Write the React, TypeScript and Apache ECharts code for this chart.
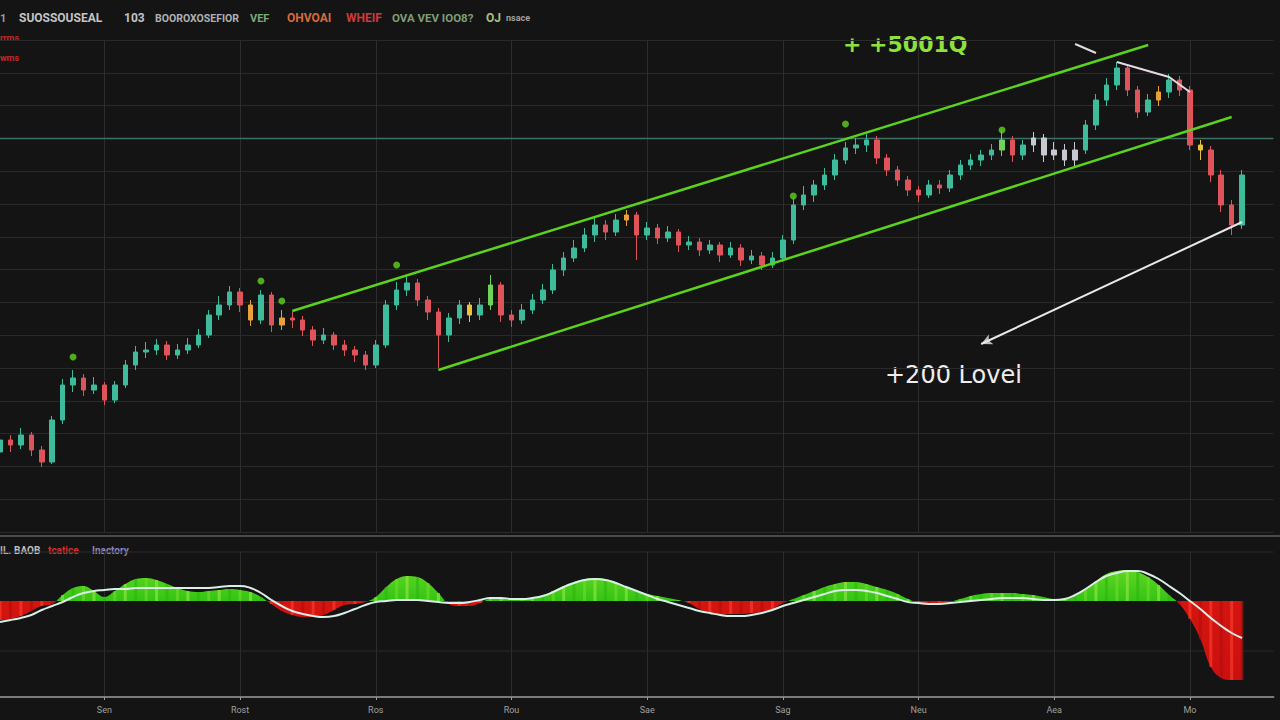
import React, { useEffect, useRef } from "react";
import * as echarts from "echarts";

// ---------- data ----------
const tickLabels = ["Sen", "Rost", "Ros", "Rou", "Sae", "Sag", "Neu", "Aea", "Mo"];
const tickIndex = [10, 23, 36, 49, 62, 75, 88, 101, 114];
const categoryCount = 123;

// [open, close, low, high]
const candles: number[][] = [
  [80, 92, 74, 98], [92, 87, 80, 97], [87, 97, 83, 104], [97, 82, 76, 100], [82, 70, 65, 86],
  [70, 112, 68, 116], [112, 147, 108, 153], [147, 154, 140, 162], [154, 142, 136, 158], [142, 147, 138, 155],
  [147, 132, 127, 150], [132, 147, 129, 151], [147, 167, 144, 172], [167, 180, 162, 186], [180, 182, 174, 190],
  [182, 187, 177, 193], [187, 177, 172, 191], [177, 182, 173, 188], [182, 187, 178, 194], [187, 197, 184, 203],
  [197, 217, 194, 222], [217, 227, 212, 236], [227, 240, 222, 246], [240, 227, 220, 244], [227, 212, 206, 232],
  [212, 237, 208, 242], [237, 207, 200, 240], [207, 214, 202, 222], [214, 212, 204, 220], [212, 202, 196, 216],
  [202, 192, 186, 206], [192, 197, 188, 204], [197, 187, 182, 200], [187, 182, 176, 192], [182, 177, 170, 186],
  [177, 167, 162, 181], [167, 187, 164, 192], [187, 227, 184, 232], [227, 242, 222, 250], [242, 249, 236, 256],
  [249, 232, 226, 253], [232, 220, 212, 236], [220, 197, 164, 224], [197, 214, 190, 219], [214, 227, 208, 232],
  [227, 217, 210, 230], [217, 227, 212, 234], [227, 247, 222, 257], [247, 217, 210, 250], [217, 212, 205, 222],
  [212, 222, 208, 228], [222, 232, 218, 238], [232, 242, 228, 248], [242, 262, 238, 268], [262, 274, 256, 280],
  [274, 284, 270, 292], [284, 297, 280, 304], [297, 307, 290, 314], [307, 300, 292, 312], [300, 312, 296, 318],
  [312, 317, 306, 322], [317, 297, 272, 320], [297, 304, 292, 310], [304, 294, 288, 308], [294, 300, 290, 306],
  [300, 287, 280, 303], [287, 290, 282, 296], [290, 282, 276, 294], [282, 287, 278, 292], [287, 277, 270, 290],
  [277, 284, 274, 290], [284, 272, 266, 288], [272, 276, 268, 282], [276, 267, 262, 280], [267, 274, 264, 280],
  [274, 292, 270, 297], [292, 327, 288, 334], [327, 337, 322, 346], [337, 347, 330, 352], [347, 357, 342, 364],
  [357, 372, 352, 378], [372, 384, 368, 390], [384, 387, 378, 394], [387, 392, 380, 398], [392, 374, 368, 396],
  [374, 362, 356, 378], [362, 352, 346, 366], [352, 342, 336, 356], [342, 337, 330, 346], [337, 347, 334, 352],
  [347, 344, 338, 352], [344, 357, 340, 362], [357, 367, 352, 372], [367, 372, 362, 378], [372, 377, 366, 382],
  [377, 382, 372, 388], [382, 392, 376, 402], [392, 377, 370, 396], [377, 387, 372, 392], [387, 394, 380, 400],
  [394, 377, 370, 398], [377, 382, 372, 390], [382, 372, 366, 388], [372, 382, 366, 390], [382, 407, 378, 412],
  [407, 432, 402, 438], [432, 447, 426, 454], [447, 464, 442, 470], [464, 442, 436, 468], [442, 420, 414, 446],
  [420, 432, 416, 438], [432, 440, 426, 446], [440, 452, 434, 458], [452, 442, 436, 456], [442, 387, 382, 446],
  [387, 382, 372, 392], [382, 357, 350, 386], [357, 327, 320, 362], [327, 307, 297, 332], [307, 357, 303, 362],
];

const macdHist = [
  -19, -18, -15, -10, -5, -3, 6, 13, 15, 10,
  4, 10, 17, 22, 23, 21, 17, 13, 10, 9,
  10, 11, 12, 11, 9, 4, -3, -10, -14, -16,
  -16, -14, -9, -4, -3, -1, 4, 14, 22, 25,
  24, 18, 8, -3, -5, -5, -2, 2, 2, 1,
  2, 3, 6, 10, 15, 19, 22, 23, 22, 19,
  14, 10, 7, 5, 3, 1, -2, -8, -12, -14,
  -13, -13, -12, -11, -8, -2, 2, 6, 10, 14,
  17, 19, 19, 17, 14, 11, 7, 2, -2, -4,
  -3, -1, 2, 5, 7, 8, 8, 8, 7, 6,
  4, 2, 2, 5, 12, 20, 27, 30, 31, 29,
  24, 16, 6, -3, -18, -38, -66, -77, -79, -79,
];

const macdSignal = [
  -21, -19, -17, -14, -9, -5, -1, 4, 8, 10,
  11, 12, 12, 13, 13, 13, 13, 13, 13, 13,
  13, 14, 15, 15, 13, 8, 1, -5, -10, -13,
  -15, -16, -15, -12, -8, -4, -1, 0, 1, 1,
  1, 0, -1, -2, -2, -1, 1, 3, 3, 2,
  2, 3, 5, 9, 14, 18, 21, 22, 21, 18,
  14, 10, 6, 2, -1, -4, -7, -10, -12, -14,
  -15, -15, -14, -12, -9, -5, -2, 1, 4, 7,
  10, 11, 11, 10, 8, 5, 2, -1, -2, -3,
  -3, -2, -1, 0, 1, 2, 3, 3, 3, 2,
  1, 1, 2, 6, 12, 19, 25, 28, 30, 30,
  27, 22, 15, 8, 0, -8, -17, -25, -32, -37,
];

const upperChannel = [[28, 221], [110, 487]];
const lowerChannel = [[42, 162], [118, 415]];
const pointerLine = [[119, 310], [94, 188]];
const peakTrend = [[107, 470], [112, 455], [114, 440]];
const peakTick = [[103, 488], [105, 479]];
const signalDots = [[7, 175], [25, 251], [27, 231], [38, 267], [76, 336], [81, 408], [96, 402]];
const supportLevel = [[0, 393.6], [122, 393.6]];
const histGuides = [[[0, 49], [122, 49]], [[0, -50], [122, -50]]];

// ---------- styles ----------
const BG = "#141414";
const UP = "#3dbb9b";
const DOWN = "#df535a";
const accent: Record<number, string> = {
  24: "#e8a13a", 27: "#e8a13a", 45: "#e8c23a", 47: "#6fd35a", 60: "#e8a13a",
  96: "#6fd35a", 99: "#c8c8d0", 100: "#c8c8d0", 101: "#c8c8d0", 102: "#c8c8d0", 103: "#c8c8d0",
  111: "#e8a13a", 115: "#e8c23a",
};

function buildOption(): any {
  const categories = Array.from({ length: categoryCount }, (_, i) => String(i));
  const candleData = candles.map((c, i) =>
    accent[i]
      ? { value: c, itemStyle: { color: accent[i], color0: accent[i], borderColor: accent[i], borderColor0: accent[i] } }
      : c
  );
  const gridRight = 1280 - 122 * 10.438;
  const isTick = (idx: number) => tickIndex.indexOf(idx) >= 0;
  const green = "#5ad21e";
  const lowTop = 551, lowH = 146, lowMax = 50, lowMin = -96;
  const zeroFrac = lowMax / (lowMax - lowMin);

  const header = [
    { x: 0, t: "1", c: "#9a9a9a", s: 11 },
    { x: 19, t: "SUOSSOUSEAL", c: "#c4c4c4", s: 12 },
    { x: 124, t: "103", c: "#c4c4c4", s: 12 },
    { x: 155, t: "BOOROXOSEFIOR", c: "#b0b0b0", s: 10.5 },
    { x: 250, t: "VEF", c: "#7fa878", s: 11 },
    { x: 287, t: "OHVOAI", c: "#d96a3c", s: 12 },
    { x: 346, t: "WHEIF", c: "#cc3b3b", s: 12 },
    { x: 392, t: "OVA VEV IOO8?", c: "#7d9e74", s: 11.5 },
    { x: 486, t: "OJ", c: "#a8c080", s: 12 },
    { x: 506, t: "nsace", c: "#a0a0a0", s: 9 },
  ];

  const graphics: any[] = [
    ...header.map((h) => ({
      type: "text", left: h.x, top: 19 - h.s / 2 - 1,
      style: { text: h.t, fill: h.c, fontSize: h.s, fontFamily: "Roboto", fontWeight: "bold" },
    })),
    { type: "text", left: 0, top: 33, style: { text: "rrms", fill: "#c42a2a", fontSize: 9, fontFamily: "Roboto", fontWeight: "bold" } },
    { type: "text", left: 0, top: 53, style: { text: "wms", fill: "#c42a2a", fontSize: 9, fontFamily: "Roboto", fontWeight: "bold" } },
    { type: "text", left: 843, top: 33, style: { text: "+ +5001Q", fill: "#8ee03c", fontSize: 22, fontFamily: "DejaVu Sans", fontWeight: "bold" } },
    { type: "text", left: 885, top: 363, style: { text: "+200 Lovel", fill: "#eeeeee", fontSize: 24, fontFamily: "DejaVu Sans", fontWeight: 500 } },
    { type: "text", left: 0, top: 545, style: { text: "IL.", fill: "#b0b0b0", fontSize: 10, fontFamily: "Roboto", fontWeight: "bold" } },
    { type: "text", left: 14, top: 545, style: { text: "BAOB", fill: "#c0c0c0", fontSize: 10, fontFamily: "Roboto", fontWeight: "bold" } },
    { type: "text", left: 48, top: 545, style: { text: "tcatice", fill: "#d43030", fontSize: 10, fontFamily: "Roboto", fontWeight: "bold" } },
    { type: "text", left: 92, top: 545, style: { text: "Inactory", fill: "#8e88b8", fontSize: 10, fontFamily: "Roboto", fontWeight: "bold" } },
    { type: "line", shape: { x1: 0, y1: 536, x2: 1280, y2: 536 }, style: { stroke: "#4a4a4a", lineWidth: 2 } },
  ];

  const lineOf = (data: number[][], color: string, width: number, axis = 0, z = 5) => ({
    type: "line", xAxisIndex: axis, yAxisIndex: axis, data, symbol: "none", silent: true, z,
    lineStyle: { color, width }, smooth: false,
  });

  const histFill = {
    type: "linear", x: 0, y: lowTop, x2: 0, y2: lowTop + lowH, global: true,
    colorStops: [
      { offset: 0, color: "#7be02c" },
      { offset: zeroFrac - 0.0005, color: "#34c414" },
      { offset: zeroFrac + 0.0005, color: "#d4150f" },
      { offset: 1, color: "#c80f0f" },
    ],
  };

  return {
    animation: false,
    backgroundColor: BG,
    graphic: graphics,
    grid: [
      { left: 0, right: gridRight, top: 40, height: 492 },
      { left: 0, right: gridRight, top: lowTop, height: lowH },
    ],
    xAxis: [
      {
        type: "category", gridIndex: 0, data: categories, boundaryGap: false,
        axisLine: { show: false, onZero: false }, axisTick: { show: false }, axisLabel: { show: false },
        splitLine: { show: true, interval: (i: number) => isTick(i), lineStyle: { color: "#2c2c2c", width: 1 } },
      },
      {
        type: "category", gridIndex: 1, data: categories, boundaryGap: false, position: "bottom",
        axisLine: { show: true, onZero: false, lineStyle: { color: "#7a7a7a", width: 2 } },
        axisTick: { show: true, interval: (i: number) => isTick(i), length: 3, lineStyle: { color: "#9a9a9a" } },
        axisLabel: {
          show: true, interval: (i: number) => isTick(i), color: "#a0a0a0", fontSize: 9, margin: 8,
          fontFamily: "Roboto",
          formatter: (v: string) => tickLabels[tickIndex.indexOf(Number(v))] ?? "",
        },
        splitLine: { show: true, interval: (i: number) => isTick(i), lineStyle: { color: "#2c2c2c", width: 1 } },
      },
    ],
    yAxis: [
      {
        type: "value", gridIndex: 0, min: 0, max: 492, interval: 32.8,
        axisLine: { show: false }, axisTick: { show: false }, axisLabel: { show: false },
        splitLine: { show: true, lineStyle: { color: "#2a2a2a", width: 1 } },
      },
      {
        type: "value", gridIndex: 1, min: lowMin, max: lowMax,
        axisLine: { show: false }, axisTick: { show: false }, axisLabel: { show: false },
        splitLine: { show: false },
      },
    ],
    series: [
      {
        type: "candlestick", xAxisIndex: 0, yAxisIndex: 0, data: candleData, barWidth: 5, z: 3,
        itemStyle: { color: UP, color0: DOWN, borderColor: UP, borderColor0: DOWN, borderWidth: 1 },
      },
      {
        type: "line", xAxisIndex: 1, yAxisIndex: 1, data: macdHist, smooth: 0.4, symbol: "none",
        lineStyle: { width: 0, opacity: 0 }, areaStyle: { opacity: 1, color: histFill }, z: 3,
      },
      {
        type: "bar", xAxisIndex: 1, yAxisIndex: 1, data: macdHist, barWidth: 3, z: 4,
        itemStyle: {
          color: (p: any) => {
            const v = p.value as number;
            if (v >= 0) return ["#9ae84a", "#2bb50f", "#70dc2a"][p.dataIndex % 3];
            return ["#ff4030", "#b00e0e"][p.dataIndex % 2];
          },
          opacity: 0.6,
        },
      },
      {
        type: "line", xAxisIndex: 1, yAxisIndex: 1, data: macdSignal, smooth: 0.5, symbol: "none", z: 6,
        lineStyle: { color: "#d8eee6", width: 2 },
      },
      lineOf(supportLevel, "#3e6f66", 1.5, 0, 2),
      lineOf(upperChannel, green, 2.5),
      lineOf(lowerChannel, green, 2.5),
      lineOf(peakTrend, "#e6d8e6", 2),
      lineOf(peakTick, "#dddddd", 2),
      lineOf(pointerLine, "#e8e8e8", 2),
      {
        type: "scatter", xAxisIndex: 0, yAxisIndex: 0, silent: true, z: 7,
        data: [pointerLine[1]], symbol: "arrow", symbolSize: [8, 11], symbolRotate: 115,
        itemStyle: { color: "#e8e8e8" },
      },
      {
        type: "scatter", xAxisIndex: 0, yAxisIndex: 0, silent: true, z: 7,
        data: signalDots, symbol: "circle", symbolSize: 7,
        itemStyle: { color: "#5ed21c" },
      },
      lineOf(histGuides[0], "#2a2a2a", 1, 1, 1),
      lineOf(histGuides[1], "#2a2a2a", 1, 1, 1),
    ],
  };
}

export default function App() {
  const ref = useRef<HTMLDivElement>(null);
  useEffect(() => {
    document.body.style.margin = "0";
    document.body.style.background = BG;
    const chart = echarts.init(ref.current!, null, { renderer: "svg" });
    chart.setOption(buildOption());
    return () => chart.dispose();
  }, []);
  return <div ref={ref} style={{ width: 1280, height: 720 }} />;
}
